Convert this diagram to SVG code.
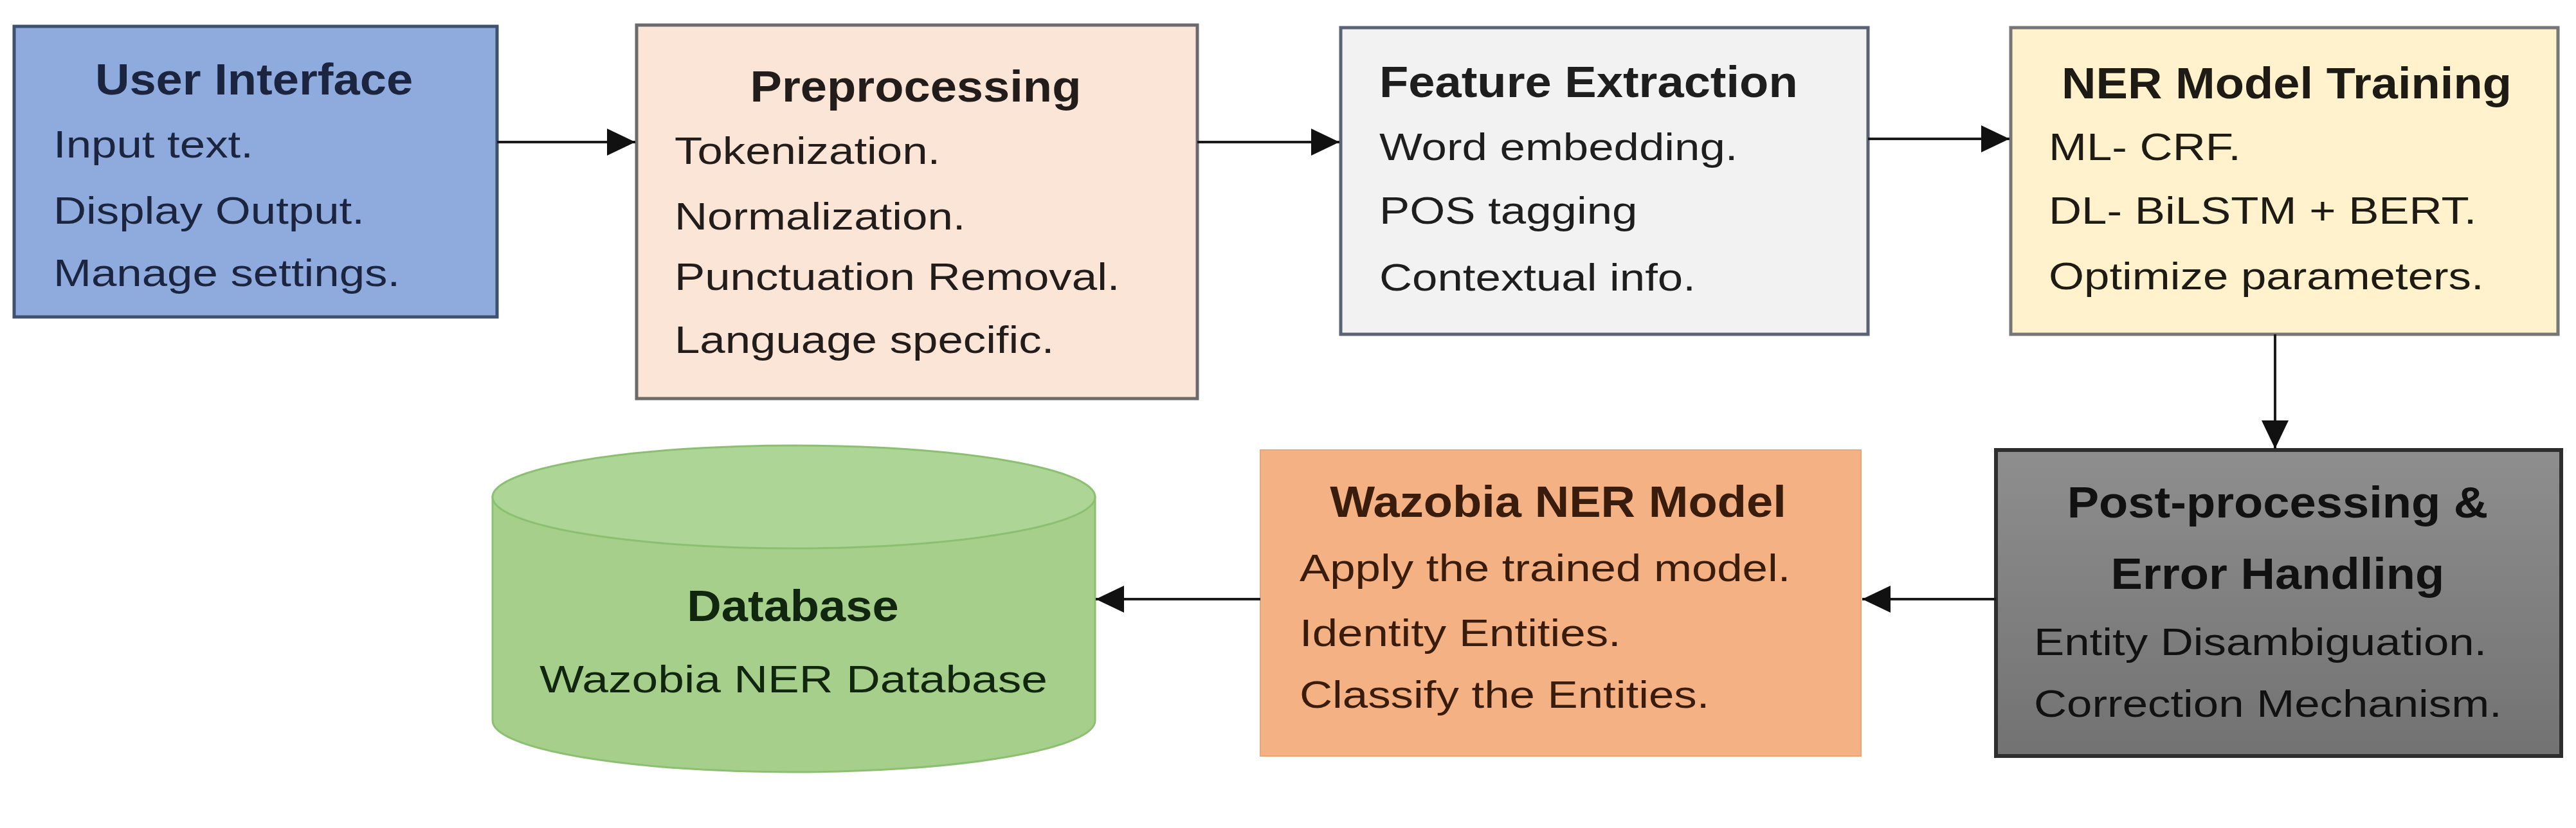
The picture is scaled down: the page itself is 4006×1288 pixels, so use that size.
<svg xmlns="http://www.w3.org/2000/svg" width="4006" height="1288" viewBox="0 0 4006 1288">
<style>
.t{font-family:"Liberation Sans",Arial,sans-serif;font-weight:bold;font-size:68px}
.b{font-family:"Liberation Sans",Arial,sans-serif;font-size:59px}
.conn{stroke:#1a1a1a;stroke-width:4;fill:none;marker-end:url(#arr)}
</style>
<defs>
<marker id="arr" markerUnits="userSpaceOnUse" markerWidth="46" markerHeight="44" refX="44" refY="21" orient="auto">
<path d="M0,0 L44,21 L0,42 Z" fill="#111"/>
</marker>
<linearGradient id="gray" x1="0" y1="0" x2="0" y2="1">
<stop offset="0" stop-color="#8e8e8e"/>
<stop offset="1" stop-color="#727272"/>
</linearGradient>
</defs>
<rect width="4006" height="1288" fill="#ffffff"/>

<g id="user-interface">
<rect x="22" y="41" width="751" height="452" fill="#8faadc" stroke="#3f5170" stroke-width="5"/>
<g fill="#1b2540">
<text class="t" transform="translate(395 147) scale(1.09 1)" text-anchor="middle">User Interface</text>
<text class="b" transform="translate(83 245) scale(1.2 1)">Input text.</text>
<text class="b" transform="translate(83 348) scale(1.2 1)">Display Output.</text>
<text class="b" transform="translate(83 445) scale(1.2 1)">Manage settings.</text>
</g>
</g>

<g id="preprocessing">
<rect x="990" y="39" width="872" height="581" fill="#fbe5d6" stroke="#6b6b6b" stroke-width="5"/>
<g fill="#221c1a">
<text class="t" transform="translate(1424 158) scale(1.09 1)" text-anchor="middle">Preprocessing</text>
<text class="b" transform="translate(1049 255) scale(1.2 1)">Tokenization.</text>
<text class="b" transform="translate(1049 357) scale(1.2 1)">Normalization.</text>
<text class="b" transform="translate(1049 451) scale(1.2 1)">Punctuation Removal.</text>
<text class="b" transform="translate(1049 549) scale(1.2 1)">Language specific.</text>
</g>
</g>

<g id="feature-extraction">
<rect x="2085" y="43" width="820" height="477" fill="#f2f2f2" stroke="#5b6275" stroke-width="5"/>
<g fill="#1e1e1e">
<text class="t" transform="translate(2145 151) scale(1.09 1)">Feature Extraction</text>
<text class="b" transform="translate(2145 249) scale(1.2 1)">Word embedding.</text>
<text class="b" transform="translate(2145 348) scale(1.2 1)">POS tagging</text>
<text class="b" transform="translate(2145 452) scale(1.2 1)">Contextual info.</text>
</g>
</g>

<g id="ner-model-training">
<rect x="3127" y="43" width="851" height="477" fill="#fff2cc" stroke="#767676" stroke-width="5"/>
<g fill="#1e1b14">
<text class="t" transform="translate(3556 153) scale(1.09 1)" text-anchor="middle">NER Model Training</text>
<text class="b" transform="translate(3186 249) scale(1.2 1)">ML- CRF.</text>
<text class="b" transform="translate(3186 348) scale(1.2 1)">DL- BiLSTM + BERT.</text>
<text class="b" transform="translate(3186 450) scale(1.2 1)">Optimize parameters.</text>
</g>
</g>

<g id="post-processing">
<rect x="3104" y="700" width="879" height="476" fill="url(#gray)" stroke="#2e2e2e" stroke-width="6"/>
<g fill="#111111">
<text class="t" transform="translate(3542 805) scale(1.09 1)" text-anchor="middle">Post-processing &amp;</text>
<text class="t" transform="translate(3542 916) scale(1.09 1)" text-anchor="middle">Error Handling</text>
<text class="b" transform="translate(3163 1019) scale(1.2 1)">Entity Disambiguation.</text>
<text class="b" transform="translate(3163 1115) scale(1.2 1)">Correction Mechanism.</text>
</g>
</g>

<g id="wazobia-ner-model">
<rect x="1960" y="700" width="934" height="476" fill="#f4b183" stroke="#eaa674" stroke-width="2"/>
<g fill="#3a1c0c">
<text class="t" transform="translate(2423 804) scale(1.09 1)" text-anchor="middle">Wazobia NER Model</text>
<text class="b" transform="translate(2021 904) scale(1.2 1)">Apply the trained model.</text>
<text class="b" transform="translate(2021 1005) scale(1.2 1)">Identity Entities.</text>
<text class="b" transform="translate(2021 1101) scale(1.2 1)">Classify the Entities.</text>
</g>
</g>

<g id="database">
<path d="M766 773 L766 1121 A468.5 80 0 0 0 1703 1121 L1703 773 Z" fill="#a6cf8b" stroke="#8cbf72" stroke-width="3"/>
<ellipse cx="1234.5" cy="773" rx="468.5" ry="80" fill="#add596" stroke="#8cbf72" stroke-width="3"/>
<g fill="#10260e">
<text class="t" transform="translate(1233 966) scale(1.09 1)" text-anchor="middle">Database</text>
<text class="b" transform="translate(1234 1077) scale(1.24 1)" text-anchor="middle">Wazobia NER Database</text>
</g>
</g>

<g id="connectors">
<line class="conn" x1="773" y1="221" x2="988" y2="221"/>
<line class="conn" x1="1862" y1="221" x2="2083" y2="221"/>
<line class="conn" x1="2905" y1="216" x2="3125" y2="216"/>
<line class="conn" x1="3538" y1="520" x2="3538" y2="698"/>
<line class="conn" x1="3104" y1="932" x2="2896" y2="932"/>
<line class="conn" x1="1960" y1="932" x2="1704" y2="932"/>
</g>
</svg>
